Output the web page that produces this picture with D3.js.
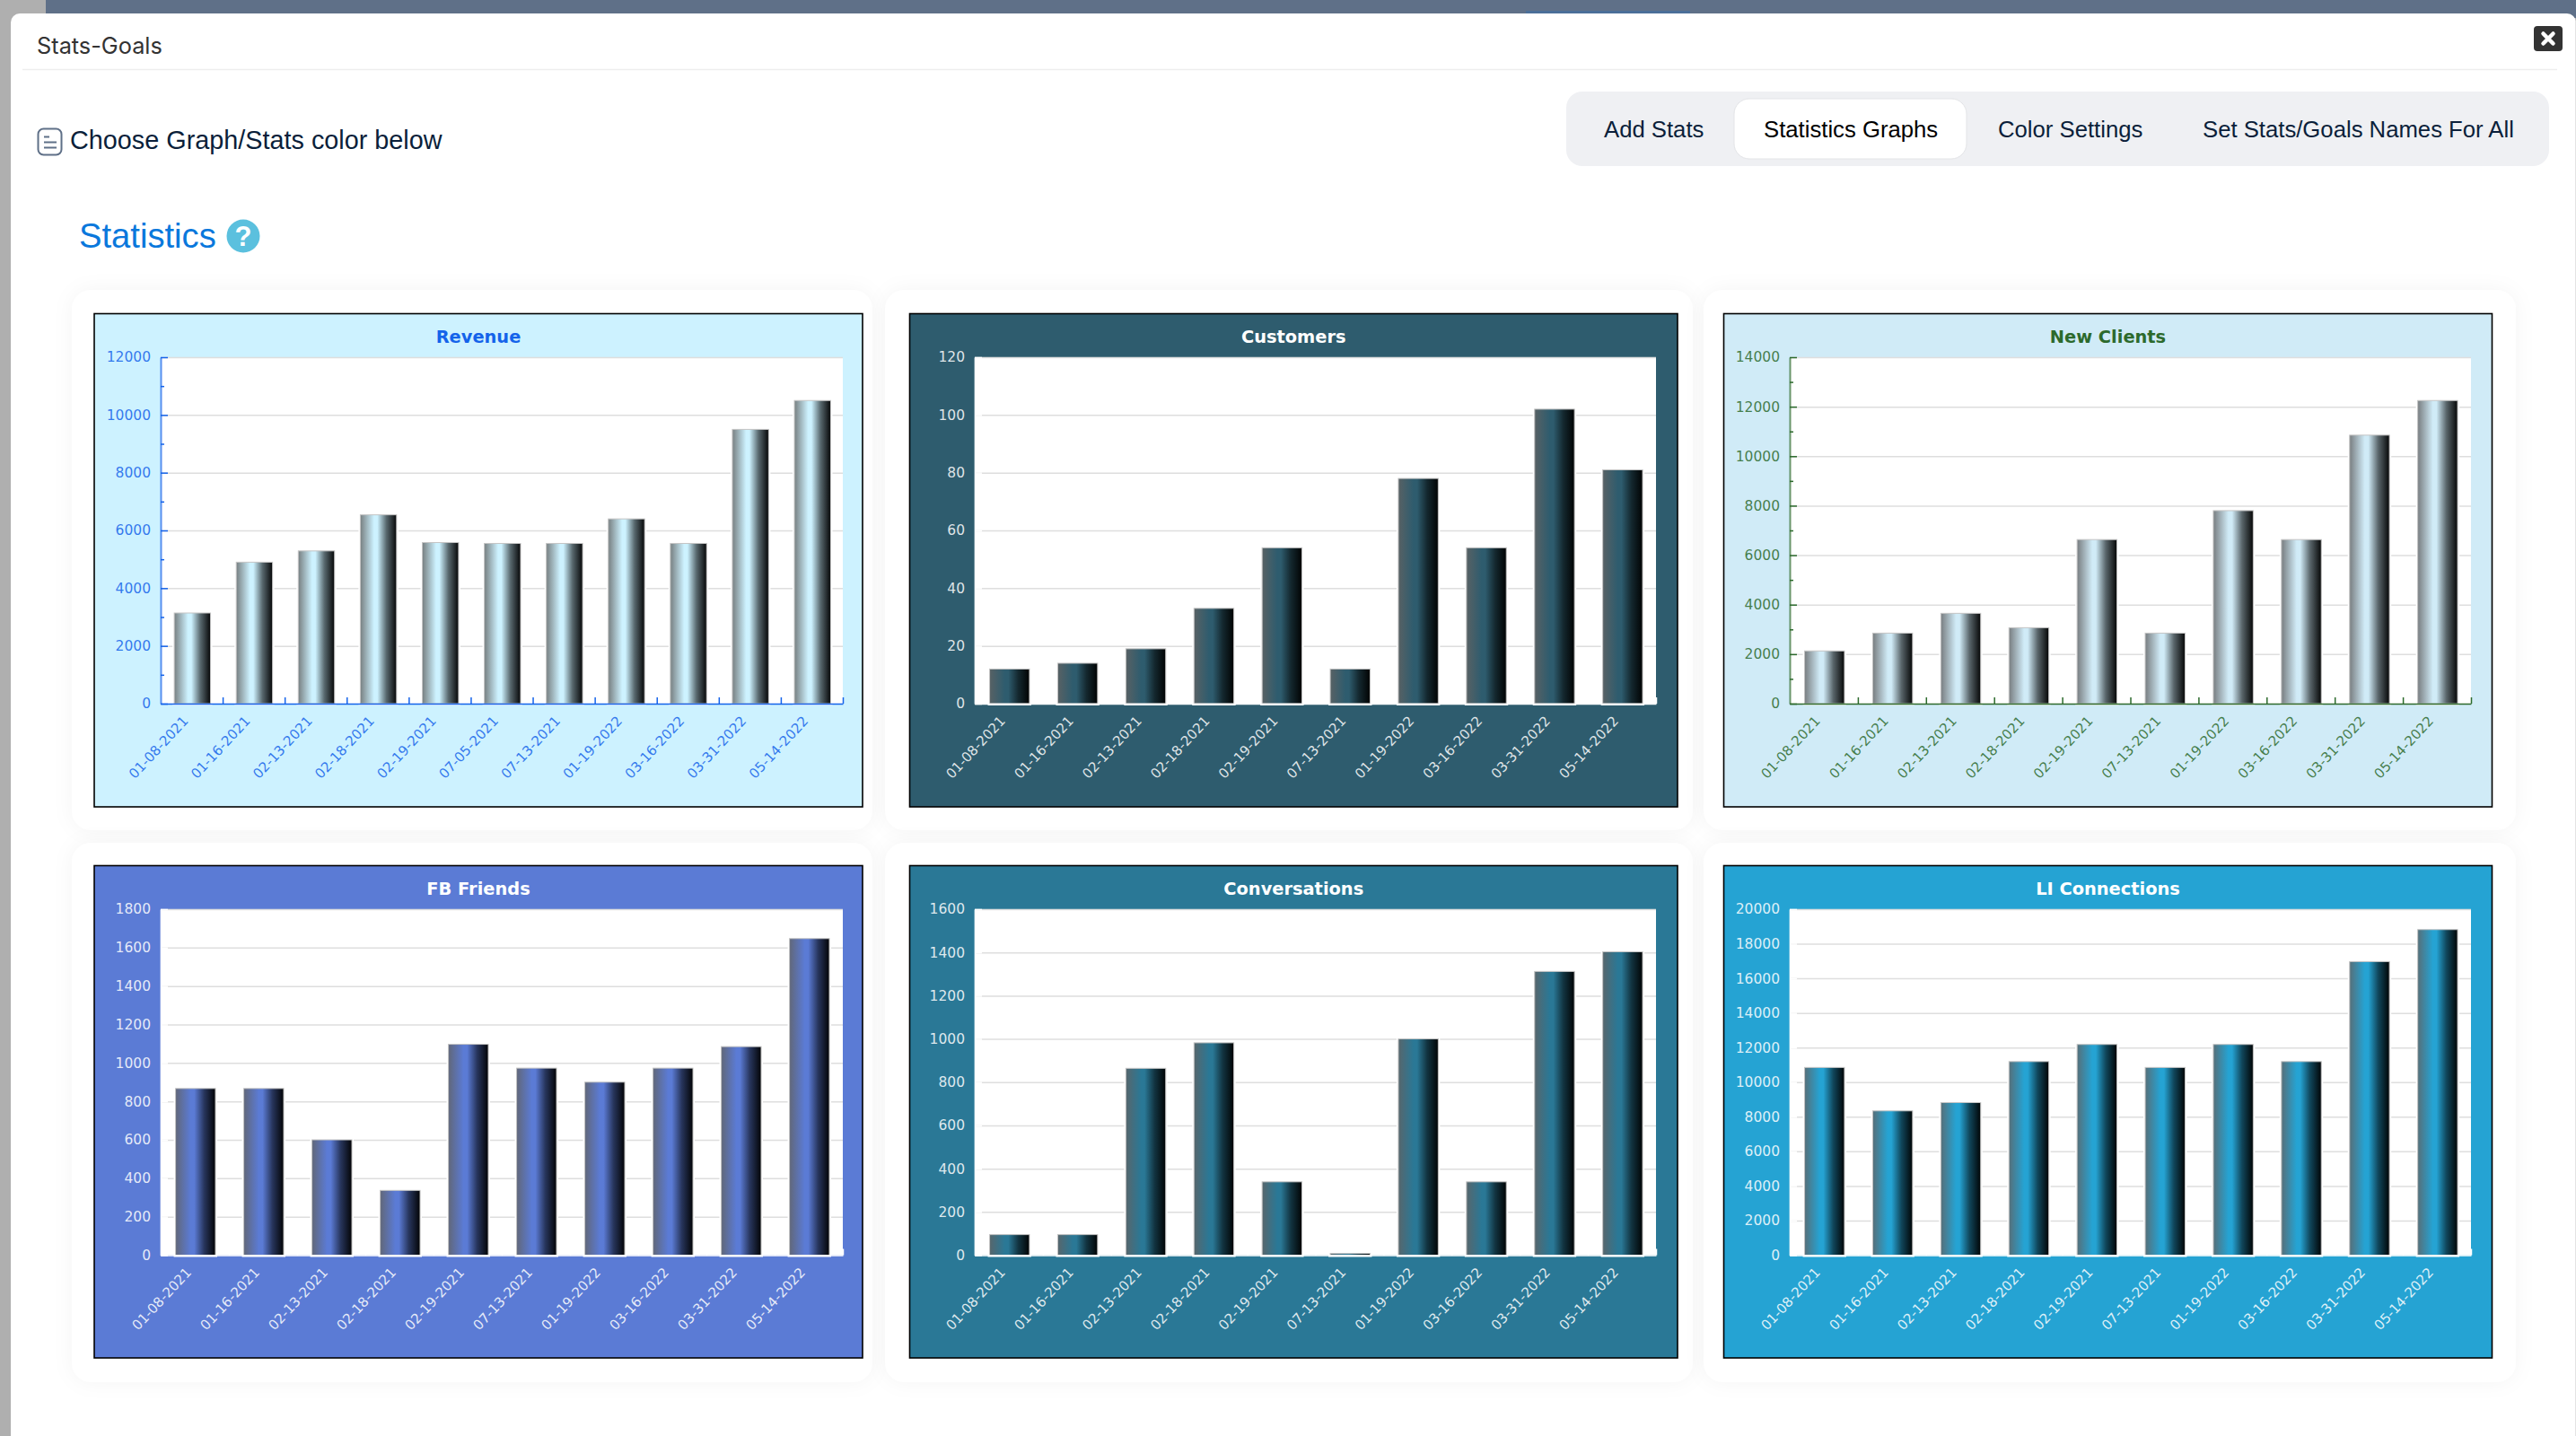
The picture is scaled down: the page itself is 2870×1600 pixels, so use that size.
<!DOCTYPE html>
<html>
<head>
<meta charset="utf-8">
<title>Stats-Goals</title>
<script src="https://cdnjs.cloudflare.com/ajax/libs/d3/7.8.5/d3.min.js"></script>
<style>
  html, body { margin: 0; padding: 0; background: #fff; }
  svg { display: block; }
  .ui { font-family: "Liberation Sans", Arial, sans-serif; }
  .chart text { font-family: "DejaVu Sans", sans-serif; }
</style>
</head>
<body>
<div id="page"></div>
<script>
// dates along the x axis
var datesRevenue = ["01-08-2021", "01-16-2021", "02-13-2021", "02-18-2021", "02-19-2021", "07-05-2021", "07-13-2021", "01-19-2022", "03-16-2022", "03-31-2022", "05-14-2022"];
var datesCommon = ["01-08-2021", "01-16-2021", "02-13-2021", "02-18-2021", "02-19-2021", "07-13-2021", "01-19-2022", "03-16-2022", "03-31-2022", "05-14-2022"];

// values
var revenue = [3140, 4900, 5290, 6540, 5580, 5550, 5550, 6400, 5550, 9500, 10500];
var customers = [12, 14, 19, 33, 54, 12, 78, 54, 102, 81];
var newClients = [2130, 2850, 3650, 3070, 6630, 2850, 7800, 6630, 10850, 12250];
var fbFriends = [867, 867, 600, 337, 1097, 973, 900, 973, 1085, 1647];
var conversations = [95, 95, 864, 982, 339, 8, 1000, 339, 1312, 1403];
var liConnections = [10850, 8340, 8820, 11190, 12180, 10850, 12180, 11190, 16970, 18820];

// y axis limits and tick spacing
var yMaxes = [12000, 120, 14000, 1800, 1600, 20000];
var ySteps = [2000, 20, 2000, 200, 200, 2000];

var tabNames = ["Add Stats", "Statistics Graphs", "Color Settings", "Set Stats/Goals Names For All"];

var W = 2870, H = 1600;

var svg = d3.select("#page").append("svg")
    .attr("width", W)
    .attr("height", H)
    .attr("viewBox", "0 0 " + W + " " + H);

var defs = svg.append("defs");

var shadow = defs.append("filter")
    .attr("id", "cardShadow")
    .attr("x", "-5%").attr("y", "-8%")
    .attr("width", "110%").attr("height", "116%");
shadow.append("feDropShadow")
    .attr("dx", 0).attr("dy", 0)
    .attr("stdDeviation", 11)
    .attr("flood-color", "#000")
    .attr("flood-opacity", 0.045);

drawBackdrop();
drawHeader();

var cardCols = [{x: 80, w: 892}, {x: 986, w: 900}, {x: 1898, w: 905}];
var cardRows = [{y: 323, h: 602}, {y: 939, h: 601}];
var frameCols = [{x: 105, w: 856, px: 179, pw: 760}, {x: 1013.5, w: 855.5, px: 1086, pw: 759}, {x: 1920.5, w: 856, px: 1994, pw: 759}];
var frameRows = [{y: 349.5, h: 549.5, py: 398, ph: 386}, {y: 964.5, h: 548.5, py: 1013, ph: 385.5}];

cardRows.forEach(function(r) {
    cardCols.forEach(function(c) {
        svg.append("rect")
            .attr("x", c.x).attr("y", r.y)
            .attr("width", c.w).attr("height", r.h)
            .attr("rx", 22)
            .attr("fill", "#fff")
            .attr("filter", "url(#cardShadow)");
    });
});

drawChart(0, 0, 0, "Revenue", datesRevenue, revenue, "#cdf2ff", "#1463ea", true);
drawChart(1, 1, 0, "Customers", datesCommon, customers, "#2e5c6e", "#ffffff", false);
drawChart(2, 2, 0, "New Clients", datesCommon, newClients, "#d0ebf7", "#2c6a2c", true);
drawChart(3, 0, 1, "FB Friends", datesCommon, fbFriends, "#5b7bd5", "#ffffff", false);
drawChart(4, 1, 1, "Conversations", datesCommon, conversations, "#2a7896", "#ffffff", false);
drawChart(5, 2, 1, "LI Connections", datesCommon, liConnections, "#25a3d3", "#ffffff", false);

function drawBackdrop() {
    svg.append("rect").attr("width", W).attr("height", H).attr("fill", "#afafaf");
    svg.append("rect").attr("x", 51).attr("width", W - 51).attr("height", 20).attr("fill", "#5f7088");
    svg.append("rect").attr("x", 1700).attr("y", 12).attr("width", 183).attr("height", 3).attr("fill", "#4b6f99");
    // modal sheet
    svg.append("rect")
        .attr("x", 12).attr("y", 15)
        .attr("width", W - 12).attr("height", H)
        .attr("rx", 10)
        .attr("fill", "#fff");
    svg.append("rect").attr("x", W - 1).attr("y", 24).attr("width", 1).attr("height", H - 24).attr("fill", "#e4e4e4");
}

function drawHeader() {
    var ui = svg.append("g").attr("class", "ui");

    ui.append("text")
        .attr("x", 41).attr("y", 60)
        .attr("font-family", "Inter, sans-serif")
        .attr("font-size", 25.3)
        .attr("fill", "#333")
        .text("Stats-Goals");

    ui.append("line")
        .attr("x1", 25).attr("x2", 2849)
        .attr("y1", 77.5).attr("y2", 77.5)
        .attr("stroke", "#eeeeee").attr("stroke-width", 1.5);

    // close button
    ui.append("rect")
        .attr("x", 2823).attr("y", 29)
        .attr("width", 32).attr("height", 28)
        .attr("rx", 4)
        .attr("fill", "#333");
    ui.append("path")
        .attr("d", "M2833.5 37.5L2844.5 48.5M2844.5 37.5L2833.5 48.5")
        .attr("stroke", "#fff").attr("stroke-width", 4.5).attr("stroke-linecap", "round");

    // little note icon
    ui.append("rect")
        .attr("x", 42.5).attr("y", 143.5)
        .attr("width", 26).attr("height", 29)
        .attr("rx", 6)
        .attr("fill", "none")
        .attr("stroke", "#5f7088").attr("stroke-width", 2);
    ui.append("path")
        .attr("d", "M49 152.5H55M49 158.5H63M49 164.5H63")
        .attr("stroke", "#5f7088").attr("stroke-width", 2);

    ui.append("text")
        .attr("x", 78).attr("y", 166)
        .attr("font-size", 28.8)
        .attr("fill", "#0b1f3a")
        .text("Choose Graph/Stats color below");

    ui.append("text")
        .attr("x", 88).attr("y", 276)
        .attr("font-size", 38.2)
        .attr("fill", "#0a78dc")
        .text("Statistics");

    ui.append("circle")
        .attr("cx", 271).attr("cy", 263).attr("r", 18.5)
        .attr("fill", "#5bc0de");
    ui.append("text")
        .attr("x", 271).attr("y", 274)
        .attr("text-anchor", "middle")
        .attr("font-size", 31)
        .attr("font-weight", "bold")
        .attr("fill", "#fff")
        .text("?");

    // tab bar
    ui.append("rect")
        .attr("x", 1745).attr("y", 102)
        .attr("width", 1095).attr("height", 83)
        .attr("rx", 18)
        .attr("fill", "#eff0f3");
    ui.append("rect")
        .attr("x", 1932).attr("y", 110)
        .attr("width", 259).attr("height", 67)
        .attr("rx", 17)
        .attr("fill", "#fff")
        .attr("stroke", "#e3e4e7");

    var tabX = [1787, 1965, 2226, 2454];
    ui.selectAll(".tab")
        .data(tabNames)
        .enter().append("text")
        .attr("class", "tab")
        .attr("x", function(d, i) { return tabX[i]; })
        .attr("y", 153)
        .attr("font-size", 25.7)
        .attr("fill", function(d, i) { return i == 1 ? "#000" : "#0b1f3a"; })
        .text(function(d) { return d; });
}

function drawChart(idx, col, row, title, dates, values, bg, fg, showMinor) {
    var fc = frameCols[col], fr = frameRows[row];
    var gradId = "barGrad" + idx;
    var toBlack = d3.interpolateRgb(bg, "#000");

    var grad = defs.append("linearGradient")
        .attr("id", gradId)
        .attr("x1", 0).attr("x2", 1).attr("y1", 0).attr("y2", 0);
    grad.append("stop").attr("offset", "0%").attr("stop-color", d3.interpolateRgb(bg, "#626262")(0.8));
    grad.append("stop").attr("offset", "38%").attr("stop-color", bg);
    grad.append("stop").attr("offset", "47%").attr("stop-color", bg);
    grad.append("stop").attr("offset", "72%").attr("stop-color", toBlack(0.57));
    grad.append("stop").attr("offset", "100%").attr("stop-color", toBlack(0.97));

    var g = svg.append("g").attr("class", "chart");

    g.append("rect")
        .attr("x", fc.x).attr("y", fr.y)
        .attr("width", fc.w).attr("height", fr.h)
        .attr("fill", bg)
        .attr("stroke", "#000").attr("stroke-width", 1.6);

    g.append("text")
        .attr("x", fc.x + fc.w / 2)
        .attr("y", fr.y + 32.5)
        .attr("text-anchor", "middle")
        .attr("font-size", 19.4)
        .attr("font-weight", "bold")
        .attr("fill", fg)
        .text(title);

    g.append("rect")
        .attr("x", fc.px).attr("y", fr.py)
        .attr("width", fc.pw).attr("height", fr.ph)
        .attr("fill", "#fff");

    var x = d3.scaleBand()
        .domain(dates)
        .range([fc.px + 0.8, fc.px + fc.pw + 0.8])
        .paddingInner(0.415)
        .paddingOuter(0.2075);

    var y = d3.scaleLinear()
        .domain([0, yMaxes[idx]])
        .range([fr.py + fr.ph, fr.py]);

    var majors = d3.range(0, yMaxes[idx] + 1, ySteps[idx]);
    var minors = d3.range(ySteps[idx] / 2, yMaxes[idx], ySteps[idx]);

    // gridlines sit under the bars
    g.append("g")
        .attr("transform", "translate(" + fc.px + ",0)")
        .call(d3.axisLeft(y).tickValues(majors.slice(1)).tickSize(-fc.pw).tickFormat(""))
        .call(function(s) {
            s.select(".domain").remove();
            s.selectAll("line").attr("stroke", "#dedede").attr("stroke-width", 1.5);
        });

    var bars = g.selectAll(".bar")
        .data(values.map(function(v, i) { return {date: dates[i], value: v}; }))
        .enter();

    // white halo that interrupts the gridlines
    bars.append("rect")
        .attr("x", function(d) { return x(d.date); })
        .attr("y", function(d) { return y(d.value); })
        .attr("width", x.bandwidth())
        .attr("height", function(d) { return y(0) - y(d.value); })
        .attr("fill", "#fff")
        .attr("stroke", "#fff")
        .attr("stroke-width", 4);

    bars.append("rect")
        .attr("class", "bar")
        .attr("x", function(d) { return x(d.date); })
        .attr("y", function(d) { return y(d.value); })
        .attr("width", x.bandwidth())
        .attr("height", function(d) { return y(0) - y(d.value); })
        .attr("fill", "url(#" + gradId + ")")
        .attr("stroke", "#c4c4c4")
        .attr("stroke-width", 1);

    // y axis with major labels
    var yAxis = g.append("g")
        .attr("transform", "translate(" + fc.px + ",0)")
        .call(d3.axisRight(y).tickValues(majors).tickSize(8).tickSizeOuter(0).tickFormat(""));
    yAxis.selectAll("line").attr("stroke", fg).attr("stroke-width", 1.5);
    yAxis.select(".domain").attr("stroke", fg).attr("stroke-width", 2).attr("stroke-opacity", 0.7);

    g.append("g")
        .attr("transform", "translate(" + (fc.px - 11) + ",0)")
        .call(d3.axisLeft(y).tickValues(majors).tickSize(0).tickPadding(0).tickFormat(d3.format("d")))
        .call(function(s) {
            s.select(".domain").remove();
            s.selectAll("text").attr("font-size", 15.5).attr("fill", fg).attr("fill-opacity", 0.85);
        });

    if (showMinor) {
        g.append("g")
            .attr("transform", "translate(" + fc.px + ",0)")
            .call(d3.axisRight(y).tickValues(minors).tickSize(4).tickFormat(""))
            .call(function(s) {
                s.select(".domain").remove();
                s.selectAll("line").attr("stroke", fg).attr("stroke-width", 1.5);
            });
    }

    // x ticks fall on the band edges and point into the plot
    var edges = d3.scaleLinear()
        .domain([0, dates.length])
        .range([fc.px, fc.px + fc.pw]);

    var xTicks = g.append("g")
        .attr("transform", "translate(0," + y(0) + ")")
        .call(d3.axisTop(edges).tickValues(d3.range(1, dates.length + 1)).tickSize(7).tickSizeOuter(0).tickFormat(""));
    xTicks.selectAll("line").attr("stroke", fg).attr("stroke-width", 1.5);
    xTicks.select(".domain").attr("stroke", fg).attr("stroke-width", 1.6);

    var xLabels = g.append("g")
        .attr("transform", "translate(0," + y(0) + ")")
        .call(d3.axisBottom(x).tickSize(0).tickFormat(function(d) { return d; }));
    xLabels.select(".domain").remove();
    xLabels.selectAll("text")
        .attr("font-size", 15.2)
        .attr("fill", fg)
        .attr("fill-opacity", 0.85)
        .attr("text-anchor", "end")
        .attr("dy", 0)
        .attr("transform", "translate(-6,18) rotate(-47)");
}
</script>
</body>
</html>
